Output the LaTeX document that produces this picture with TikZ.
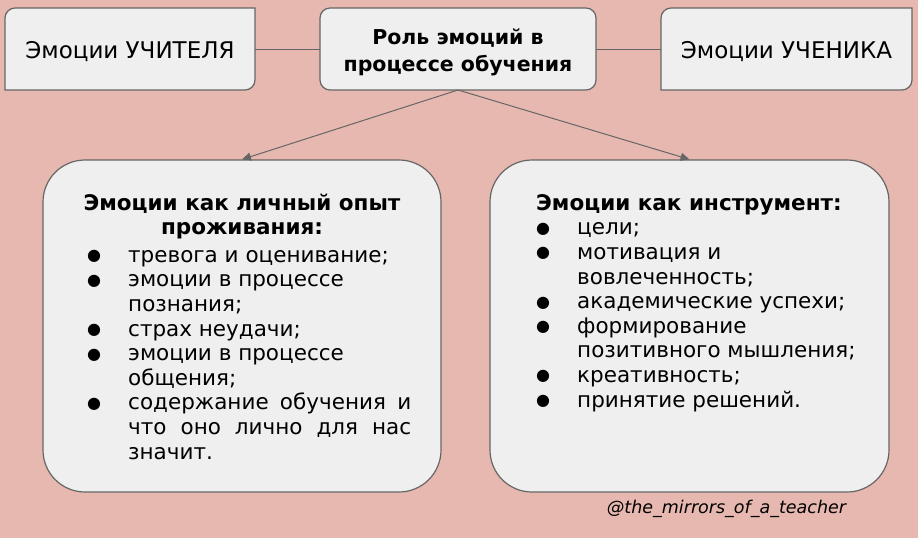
\documentclass[tikz,border=0pt]{standalone}
\usepackage{fontspec}
\setmainfont{DejaVu Sans}[BoldFont={DejaVu Sans Bold},ItalicFont={DejaVu Sans Oblique}]
\usetikzlibrary{arrows.meta}
\definecolor{bgpink}{HTML}{E6B8AF}
\definecolor{boxgray}{HTML}{EFEFEF}
\definecolor{linegray}{HTML}{666666}
\newcommand{\Punkt}{\raisebox{1.5pt}{\fontsize{16}{16}\selectfont ●}}

\begin{document}
\begin{tikzpicture}[x=1pt, y=-1pt]

  \tikzset{BoxStyle/.style = {
  fill = boxgray,
  draw = linegray,
  line width = 1.2pt},
  EmptyBox/.style = {
  shape = rectangle,
  inner sep = 0pt,
  outer sep = 0pt,
  minimum width = 250pt,
  minimum height = 82pt},
  HeadText/.style = {
  font = \fontsize{23}{27}\selectfont,
  inner sep = 0pt},
  RolText/.style = {
  font = \fontsize{20.5}{27.5}\selectfont\bfseries,
  inner sep = 0pt},
  ListText/.style = {
  font = \fontsize{21.5}{24.6}\selectfont,
  inner sep = 0pt},
  Link/.style = {
  draw = linegray,
  line width = 1pt},
  Arrow/.style = {
  Link,
  -{Triangle[length=9pt, width=8pt]}}}

  \fill[bgpink] (0,0) rectangle (918,538);

  \node[EmptyBox] (T) at (130,49) {};
  \draw[BoxStyle] (T.south west) -- ([yshift=-10pt]T.north west)
    .. controls ([yshift=-4.5pt]T.north west) and ([xshift=4.5pt]T.north west) .. ([xshift=10pt]T.north west)
    -- (T.north east) -- ([yshift=10pt]T.south east)
    .. controls ([yshift=4.5pt]T.south east) and ([xshift=-4.5pt]T.south east) .. ([xshift=-10pt]T.south east)
    -- cycle;

  \node[EmptyBox, minimum width=251pt] (S) at (786.5,49) {};
  \draw[BoxStyle] (S.south west) -- ([yshift=-10pt]S.north west)
    .. controls ([yshift=-4.5pt]S.north west) and ([xshift=4.5pt]S.north west) .. ([xshift=10pt]S.north west)
    -- (S.north east) -- ([yshift=10pt]S.south east)
    .. controls ([yshift=4.5pt]S.south east) and ([xshift=-4.5pt]S.south east) .. ([xshift=-10pt]S.south east)
    -- cycle;

  \node[BoxStyle, rounded corners=10pt, inner sep=0pt, outer sep=0pt,
    minimum width=276pt, minimum height=82pt] (R) at (458,49) {};

  \node[BoxStyle, rounded corners=42pt, inner sep=0pt,
    minimum width=398pt, minimum height=332pt] (L) at (242,326) {};
  \node[BoxStyle, rounded corners=42pt, inner sep=0pt,
    minimum width=399pt, minimum height=332pt] (I) at (689.5,326) {};

  \draw[Link] (T.east) -- (R.west);
  \draw[Link] (R.east) -- (S.west);
  \draw[Arrow] (R.south) -- (L.north);
  \draw[Arrow] (R.south) -- (I.north);

  \node[HeadText, anchor=base] (Ttext) at (130,58.3) {Эмоции УЧИТЕЛЯ};
  \node[HeadText, anchor=base] (Stext) at (786.5,58.3) {Эмоции УЧЕНИКА};
  \node[RolText, anchor=north] (Rtext) at (458,24.75) {%
    \begin{tabular}{@{}c@{}}
      Роль эмоций в\\
      процессе обучения
    \end{tabular}};

  \node[ListText, font=\fontsize{21.5}{24.6}\selectfont\bfseries, anchor=north] (Ltitle) at (242,192.8) {%
    \begin{tabular}{@{}c@{}}
      Эмоции как личный опыт\\
      проживания:
    \end{tabular}};
  \node[ListText, anchor=north west] (Llist) at (87,244.8) {%
    \begin{tabular}{@{}p{41pt}@{}p{283pt}@{}}
      \Punkt & тревога и оценивание;\\
      \Punkt & эмоции в процессе\newline познания;\\
      \Punkt & страх неудачи;\\
      \Punkt & эмоции в процессе\newline общения;\\
      \Punkt & содержание обучения и\linebreak что оно лично для нас\linebreak значит.
    \end{tabular}};

  \node[ListText, anchor=north west] (Ilist) at (536,192.8) {%
    \begin{tabular}{@{}p{41pt}@{}p{300pt}@{}}
      \multicolumn{2}{@{}l@{}}{\bfseries Эмоции как инструмент:}\\
      \Punkt & цели;\\
      \Punkt & мотивация и\newline вовлеченность;\\
      \Punkt & академические успехи;\\
      \Punkt & формирование\newline позитивного мышления;\\
      \Punkt & креативность;\\
      \Punkt & принятие решений.
    \end{tabular}};

  \node[font=\fontsize{17.5}{20}\selectfont\itshape, anchor=base, inner sep=0pt] (sign) at (726.5,513) {@the\_mirrors\_of\_a\_teacher};
\end{tikzpicture}
\end{document}
